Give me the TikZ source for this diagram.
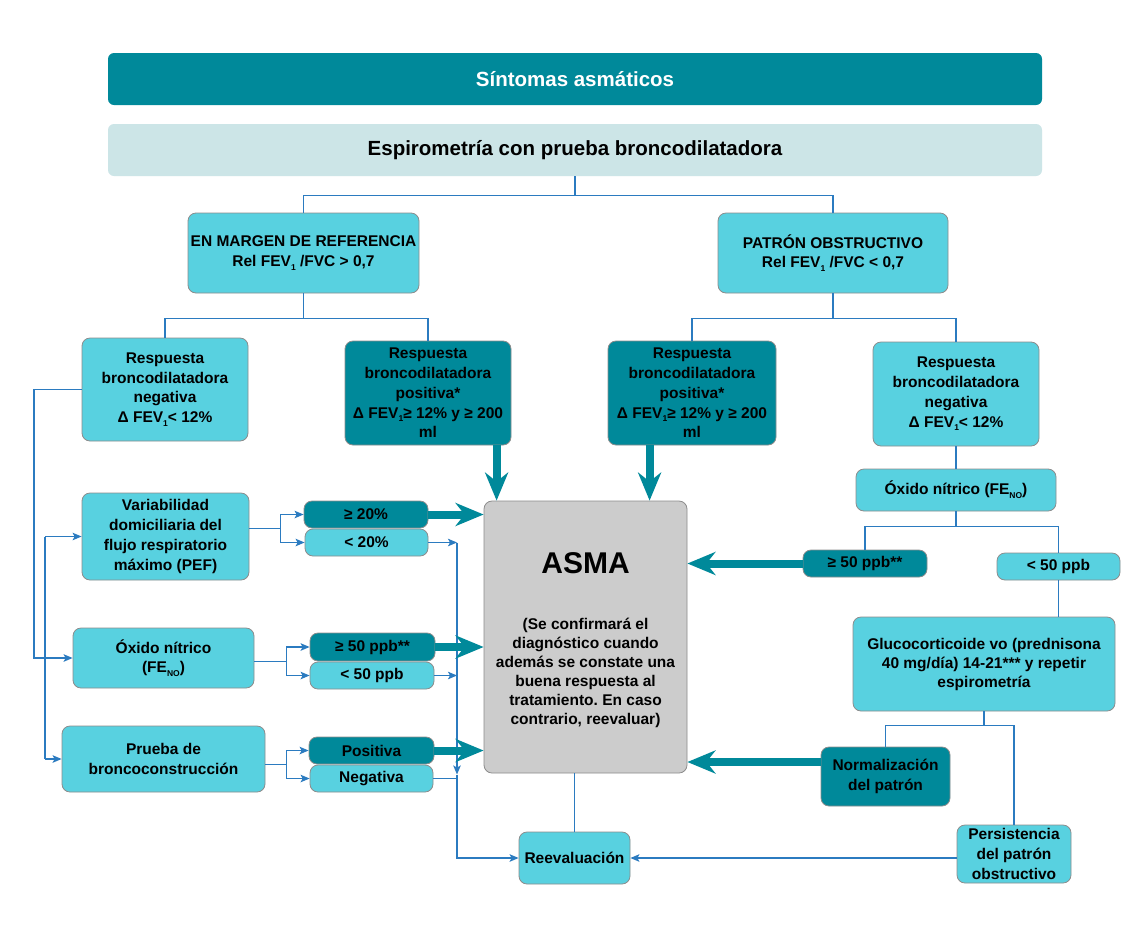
\documentclass[tikz,border=0pt]{standalone}
\usepackage{fontspec}
\setmainfont{Liberation Sans}
\usetikzlibrary{arrows.meta,calc}
\definecolor{tealD}{HTML}{00899A}
\definecolor{cyanB}{HTML}{58D1E0}
\definecolor{lightB}{HTML}{CCE5E7}
\definecolor{grayB}{HTML}{CCCCCC}
\definecolor{lineB}{HTML}{2B7BC0}
\definecolor{edgeG}{HTML}{8C8C8C}
\newcommand{\sbs}[1]{\raisebox{-0.45ex}{\fontsize{8.5}{8.5}\selectfont #1}}
\frenchspacing
\begin{document}
\begin{tikzpicture}[x=1pt,y=-1pt,
  box/.style={draw=edgeG, line width=0.8pt, rounded corners=8pt, align=center, inner sep=0pt,
    font=\bfseries\fontsize{15.5}{19.8}\selectfont, text=black},
  cbox/.style={box, fill=cyanB},
  dbox/.style={box, fill=tealD},
  wh/.style 2 args={minimum width=#1pt, minimum height=#2pt},
  conn/.style={draw=lineB, line width=1.3pt},
  tarr/.style={conn, -{Stealth[length=9pt,width=7.5pt,inset=2pt]}},
  bigarrow/.style={draw=tealD, line width=8pt, -{Stealth[length=28pt,width=23pt,inset=9pt]}}
]
\fill[white] (0,0) rectangle (1140,927);
\useasboundingbox (0,0) rectangle (1140,927);

% top
\node[box, draw=none, fill=tealD, rounded corners=6pt, wh={934}{52}, text=white,
  font=\bfseries\fontsize{20.5}{24}\selectfont] (title) at (575,79) {Síntomas asmáticos};
\node[box, draw=none, fill=lightB, rounded corners=6pt, wh={934}{52},
  font=\bfseries\fontsize{20.5}{24}\selectfont] (espiro) at (575,150) {Espirometría con prueba broncodilatadora};

\node[cbox, wh={231}{80}] (margen) at (303.5,253) {EN MARGEN DE REFERENCIA\\Rel FEV\sbs{1} /FVC > 0,7};
\node[cbox, wh={230}{80}] (patron) at (833,253) {PATRÓN OBSTRUCTIVO\\Rel FEV\sbs{1} /FVC < 0,7};

\node[cbox, wh={166}{103}] (negL) at (165,389.5) {Respuesta\\broncodilatadora\\negativa\\Δ FEV\sbs{1}< 12\%};
\node[dbox, wh={166}{104}] (posL) at (428,393) {Respuesta\\broncodilatadora\\positiva*\\Δ FEV\sbs{1}≥ 12\% y ≥ 200\\ml};
\node[dbox, wh={168}{104}] (posR) at (692,393) {Respuesta\\broncodilatadora\\positiva*\\Δ FEV\sbs{1}≥ 12\% y ≥ 200\\ml};
\node[cbox, wh={166}{104}] (negR) at (956,394) {Respuesta\\broncodilatadora\\negativa\\Δ FEV\sbs{1}< 12\%};

% right column
\node[cbox, wh={200}{42}] (oxR) at (956,490) {Óxido nítrico (FE\sbs{NO})};
\node[dbox, wh={124}{27}] (g50R) at (865,563.5) {≥ 50 ppb**};
\node[cbox, wh={123}{27}] (l50R) at (1058.5,566.5) {< 50 ppb};
\node[cbox, wh={262}{94}, font=\bfseries\fontsize{15.5}{19}\selectfont] (gluco) at (984,664) {Glucocorticoide vo (prednisona\\40 mg/día) 14-21*** y repetir\\espirometría};
\node[dbox, wh={129}{59}] (norm) at (885.5,776.5) {Normalización\\del patrón};
\node[cbox, wh={114}{58}] (pers) at (1014,854) {Persistencia\\del patrón\\obstructivo};

% center
\node[box, fill=grayB, wh={203}{272}] (asma) at (585.5,637) {};
\node[font=\bfseries\fontsize{30}{34}\selectfont] (asmat) at (585.5,563) {ASMA};
\node[font=\bfseries\fontsize{15.5}{19}\selectfont, align=center] (asmap) at (585.5,672.5)
  {(Se confirmará el\\diagnóstico cuando\\además se constate una\\buena respuesta al\\tratamiento. En caso\\contrario, reevaluar)};
\node[cbox, wh={111}{52}] (reev) at (574.5,858) {Reevaluación};

% left column
\node[cbox, wh={167}{87}] (pef) at (165.5,536.5) {Variabilidad\\domiciliaria del\\flujo respiratorio\\máximo (PEF)};
\node[dbox, wh={124}{27}] (g20) at (366,514.5) {≥ 20\%};
\node[cbox, wh={123}{27}] (l20) at (366.5,542.5) {< 20\%};
\node[cbox, wh={181}{60}] (oxL) at (163.5,658) {Óxido nítrico\\(FE\sbs{NO})};
\node[dbox, wh={125}{28}] (g50L) at (372.5,647) {≥ 50 ppb**};
\node[cbox, wh={124}{27}] (l50L) at (372,675.5) {< 50 ppb};
\node[cbox, wh={203}{66}] (prueba) at (163.5,759) {Prueba de\\broncoconstrucción};
\node[dbox, wh={125}{27}] (posit) at (371.5,750.5) {Positiva};
\node[cbox, wh={123}{27}] (negat) at (371.5,778.5) {Negativa};

% tree connectors
\coordinate (j1) at ($(espiro.south)+(0,19)$);
\draw[conn] (espiro.south) -- (j1);
\draw[conn] (j1) -| (margen.north);
\draw[conn] (j1) -| (patron.north);
\coordinate (j2) at ($(margen.south)+(0,25)$);
\draw[conn] (margen.south) -- (j2);
\draw[conn] (j2) -| (negL.north);
\draw[conn] (j2) -| (posL.north);
\coordinate (j3) at ($(patron.south)+(0,25)$);
\draw[conn] (patron.south) -- (j3);
\draw[conn] (j3) -| (posR.north);
\draw[conn] (j3) -| (negR.north);
\draw[conn] (negR.south) -- (oxR.north);
\coordinate (j4) at ($(oxR.south)+(0,15)$);
\draw[conn] (oxR.south) -- (j4);
\draw[conn] (j4) -| (g50R.north);
\draw[conn] (j4) -| (l50R.north);
\draw[conn] (l50R.south) -- (l50R.south |- gluco.north);
\coordinate (j5) at ($(gluco.south)+(0,14)$);
\draw[conn] (gluco.south) -- (j5);
\draw[conn] (j5) -| (norm.north);
\draw[conn] (j5) -| (pers.north);
\draw[tarr] (pers.west |- reev.east) -- (reev.east);
\draw[conn] (reev.north |- asma.south) -- (reev.north);

% left feeders
\coordinate (vl1) at (34,0);
\coordinate (vl2) at (45,0);
\draw[tarr] (negL.west) -- (negL.west -| vl1) |- (oxL.west);
\draw[conn] (vl2 |- pef.west) -- (vl2 |- prueba.west);
\draw[tarr] (vl2 |- pef.west) -- (pef.west);
\draw[tarr] (vl2 |- prueba.west) -- (prueba.west);

% brackets
\coordinate (m1) at ($(g20.west)!0.5!(l20.west)$);
\coordinate (p1) at (pef.east |- m1);
\coordinate (b1) at ($(p1)+(31,0)$);
\draw[conn] (p1) -- (b1);
\draw[tarr] (b1) |- (g20.west);
\draw[tarr] (b1) |- (l20.west);
\coordinate (m2) at ($(g50L.west)!0.5!(l50L.west)$);
\coordinate (p2) at (oxL.east |- m2);
\coordinate (b2) at ($(p2)+(32,0)$);
\draw[conn] (p2) -- (b2);
\draw[tarr] (b2) |- (g50L.west);
\draw[tarr] (b2) |- (l50L.west);
\coordinate (m3) at ($(posit.west)!0.5!(negat.west)$);
\coordinate (p3) at (prueba.east |- m3);
\coordinate (b3) at ($(p3)+(21,0)$);
\draw[conn] (p3) -- (b3);
\draw[tarr] (b3) |- (posit.west);
\draw[tarr] (b3) |- (negat.west);

% vertical collector to Reevaluacion
\coordinate (vx) at (457,0);
\coordinate (vn) at (vx |- negat.east);
\coordinate (vn2) at ($(vn)+(0,-4)$);
\draw[tarr] (l20.east) -- (vx |- l20.east);
\draw[tarr] (l50L.east) -- (vx |- l50L.east);
\draw[conn] (negat.east) -- (vn);
\draw[tarr] (vx |- l20.east) -- (vn2);
\draw[tarr] (vn2) |- (reev.west);

% thick arrows into ASMA
\draw[bigarrow] (g20.east) -- (asma.west |- g20.east);
\draw[bigarrow] (g50L.east) -- (asma.west |- g50L.east);
\draw[bigarrow] (posit.east) -- (asma.west |- posit.east);
\draw[bigarrow] (g50R.west) -- (asma.east |- g50R.west);
\coordinate (nr) at ($(norm.west)+(0,-14.5)$);
\draw[bigarrow] (nr) -- (asma.east |- nr);
\coordinate (t1) at ($(asma.north west)+(13,0)$);
\coordinate (t2) at ($(asma.north west)+(166,0)$);
\draw[bigarrow] (posL.south -| t1) -- (t1);
\draw[bigarrow] (posR.south -| t2) -- (t2);
\end{tikzpicture}
\end{document}
